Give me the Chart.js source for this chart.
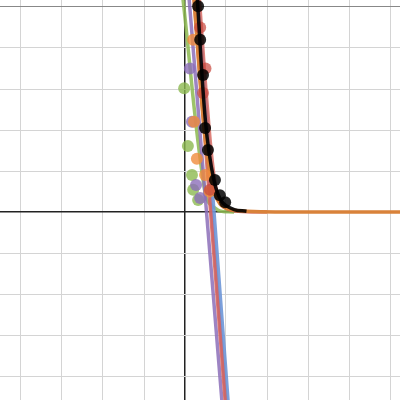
<!DOCTYPE html><html><head><script src="https://cdn.jsdelivr.net/npm/chart.js@4"></script>
<style>html,body{margin:0;padding:0;background:#fff;overflow:hidden}#o{width:400px;height:400px;overflow:hidden;position:relative}#w{position:absolute;left:-6px;top:-6px;width:412px;height:412px}</style></head><body><div id="o"><div id="w"><canvas id="c"></canvas></div></div><script>
const blueLine=[[0.32,5.2],[1.05,-4.6]];
const redLine=[[0.22,5.2],[0.98,-4.6]];
const purpleLine=[[0.1,5.2],[0.9,-4.6]];
const purpleLine2=[[0.25,5.2],[1.0,-4.6]];
const greenLine=[[-0.05,5.2],[0.5,0.4],[0.8,0.05],[1.2,0.0]];
const blackCurve=[[0.3,5.2],[0.5,2.2],[0.7,0.8],[0.9,0.25],[1.2,0.06],[1.5,0.02]];
const orangeCurve=[[0.22,5.2],[0.45,2.2],[0.65,0.7],[0.85,0.2],[1.1,0.06],[1.5,0.02],[2.2,0],[5.3,0]];
const redCurve=[[0.35,5.2],[0.55,2.5],[0.75,0.6],[0.95,0.12],[1.3,0.02],[2,0]];
const blackPts=[[0.32,5.02],[0.37,4.2],[0.44,3.34],[0.49,2.05],[0.56,1.51],[0.73,0.78],[0.85,0.41],[0.98,0.24]];
const greenPts=[[-0.02,3.02],[0.07,1.61],[0.17,0.9],[0.2,0.54],[0.32,0.29]];
const orangePts=[[0.22,2.2],[0.29,1.3],[0.49,0.9],[0.6,0.5],[0.2,4.2]];
const purplePts=[[0.12,3.5],[0.17,2.2],[0.27,0.66],[0.37,0.34]];
const redPts=[[0.37,4.5],[0.44,2.9],[0.61,0.54],[0.5,3.5]];
const P=a=>a.map(p=>({x:p[0],y:p[1]}));
const ln=(d,c,w)=>({type:'line',data:P(d),borderColor:c,borderWidth:w||3.5,pointRadius:0,tension:0.35,fill:false});
const pt=(d,c)=>({type:'scatter',data:P(d),backgroundColor:c,borderWidth:0,pointRadius:6});
const ds=[
ln(greenLine,'rgba(140,185,80,0.85)'),ln(purpleLine,'rgba(140,110,185,0.85)'),ln(purpleLine2,'rgba(140,110,185,0.85)'),
ln(blueLine,'rgba(110,150,215,0.9)'),ln(redLine,'rgba(215,100,90,0.85)'),ln(redCurve,'rgba(215,100,90,0.8)'),
ln(orangeCurve,'#d9823a'),
pt(greenPts,'rgba(140,185,80,0.8)'),pt(purplePts,'rgba(140,110,185,0.8)'),pt(orangePts,'rgba(240,140,60,0.8)'),
pt(redPts,'rgba(200,70,60,0.7)'),ln(blackCurve,'rgba(0,0,0,0.9)'),pt(blackPts,'rgba(0,0,0,0.85)')];
ds.forEach((d,i)=>d.order=ds.length-i);
new Chart(document.getElementById('c'),{data:{datasets:ds},
options:{animation:false,responsive:true,maintainAspectRatio:false,layout:{padding:0},
plugins:{legend:{display:false},tooltip:{enabled:false}},
scales:{x:{type:'linear',min:-185/41,max:215/41,afterFit:s=>{s.height=0},ticks:{display:false,stepSize:1,includeBounds:false,padding:0},border:{display:false},
grid:{color:c=>c.tick.value===0?'#222':'#d4d4d4',lineWidth:c=>c.tick.value===0?1.5:1,drawTicks:false,tickLength:0}},
y:{type:'linear',min:-188/41,max:212/41,afterFit:s=>{s.width=0},ticks:{display:false,stepSize:1,includeBounds:false,padding:0},border:{display:false},
grid:{color:c=>c.tick.value===0?'#222':(c.tick.value===5?'#888':'#d4d4d4'),lineWidth:c=>c.tick.value===0?1.5:1,drawTicks:false,tickLength:0}}}}});
</script></body></html>
